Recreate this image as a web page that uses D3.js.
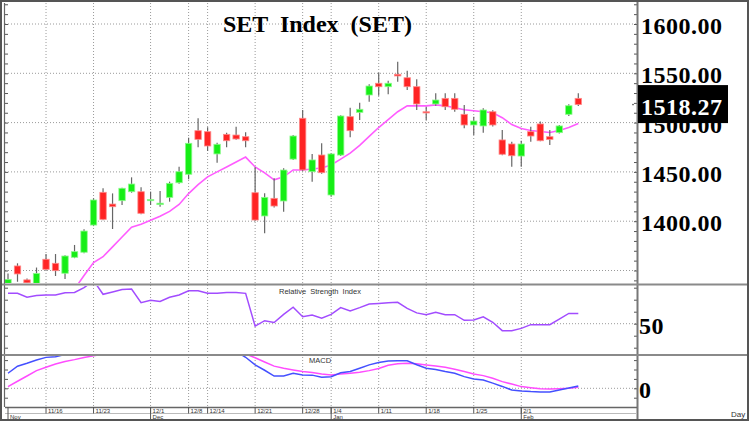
<!DOCTYPE html>
<html>
<head>
<meta charset="utf-8">
<script src="https://cdn.jsdelivr.net/npm/d3@7"></script>
<style>
  body { margin: 0; background: #fff; }
  svg { display: block; }
</style>
</head>
<body>
<script>

// ---- data ----
var openP  = [1337,1354.6,1340.5,1337,1361.4,1357.3,1347.2,1363.4,1368.5,1396.1,
              1429.3,1417.4,1420.8,1429.9,1429.9,1420.8,1416.8,1424.2,1439,1447.6,
              1491.8,1490.8,1468.2,1488.1,1487.4,1485.7,1428.9,1405.3,1423.2,1420.5,
              1463,1504.4,1450.2,1467.1,1426.6,1467.1,1506,1510.4,1528,1539.9,
              1536.4,1549,1545.5,1536.4,1511,1518.9,1524.6,1524.6,1508.4,1497.6,
              1496.6,1511,1482.4,1478.3,1466.1,1490.8,1498.6,1485.7,1489.8,1508.4,1524.6];
var highP  = [1347,1357.3,1342,1353,1366.7,1366.7,1365.5,1375.9,1391.8,1423.2,
              1433.4,1428.2,1434,1444.5,1434.4,1430,1430.6,1440.1,1455.3,1484.7,
              1504.4,1495.2,1479.5,1489.8,1495.8,1490.1,1454.7,1428.3,1443.5,1453.7,
              1487.5,1512.8,1468.2,1479,1469,1507.5,1515.1,1520.2,1538.8,1550.6,
              1542.5,1561.8,1552.6,1543.9,1516.1,1529.7,1529.7,1529.7,1517.8,1506,
              1514.5,1512.5,1492.5,1480.6,1481.6,1495.8,1501,1492.5,1497.5,1518.5,1529.7];
var lowP   = [1336,1338.6,1336.5,1336,1350,1344.4,1341.4,1362.5,1367.4,1395,
              1401,1392.1,1416.4,1428.9,1407,1416.4,1414.7,1419.8,1438,1442.5,
              1474.9,1471.2,1459.4,1474.9,1482.5,1474.9,1400,1387.7,1414,1409.6,
              1462,1451,1440.1,1448,1424.9,1466,1485.1,1502.6,1521.2,1527.3,
              1528.7,1541.5,1533.1,1512.8,1502.6,1517,1512.8,1511,1494.2,1487.4,
              1489.8,1496,1467,1455.3,1455.3,1480.6,1481,1477.3,1489,1506.7,1516.8];
var closeP = [1341,1346.5,1337.5,1347,1351.2,1349.8,1364.7,1369.1,1390,1421.5,
              1401.9,1414.7,1433.4,1437.7,1408,1422,1418.3,1438.4,1450.2,1479,
              1483,1476.3,1478,1481.6,1483.4,1481.6,1401.2,1424.2,1415.4,1451.9,
              1486.4,1452,1462.1,1449.2,1468.2,1506.7,1491.8,1513.5,1537.1,1536.4,
              1539.9,1547.3,1536.4,1518.9,1510,1522.9,1516.1,1513.5,1497.6,1501.6,
              1512.8,1497.6,1467.9,1466.4,1478.3,1486.4,1481.6,1483,1496.6,1517.1,1518.27];

// moving average of close
var maLine = [1290,1297,1303,1309,1315,1321,1327,1331,1345,1358,
              1364,1374,1384,1394,1397,1401,1405,1410,1417,1428,
              1437,1445,1450,1455,1460,1465,1455,1449,1442,1445,
              1452,1452,1453,1454,1457,1463,1469,1477,1486,1495,
              1503,1511,1517,1517,1517,1518,1517,1515,1513,1512,
              1511,1510,1505,1498,1494,1492,1491,1490,1492,1495,1499];

var rsiLine = [75.3,75.3,72,73.4,73.9,73.9,75.8,76,80,86,
               74.5,76.5,78.5,78.9,67.5,69.5,68.5,72,73.9,77.5,
               77.5,75.3,75.3,76,76,75.3,48,52.5,51,57.8,
               63.7,55.8,57.2,54.5,57.8,63.4,60.6,63.4,66.4,66.9,
               67.5,67.8,62.8,59,57.5,59.5,57.5,57.5,52.8,53.1,
               55.8,51.2,44.2,44.2,46.1,49.2,49.2,49.2,53.9,58.6,58.6];

var macdLine = [16,23.5,26.6,30.1,32.9,33.5,36,39,42,46,
                48,49,50,51,49,47,45,44,44,46,
                48,47,45,43,39,33,24.9,19.2,13,13.1,
                16,14.2,14,11.7,12.4,16.5,17.8,21.3,24.9,27.5,
                29,29.4,29.2,25,21.3,20,17.8,16,12.4,10,
                8.9,5.5,2,-1.8,-2.8,-3.5,-3.9,-3.9,-1.8,0.3,2.5];
var signalLine = [1.8,7.5,13.1,18.8,22.4,25.8,28.5,30.5,32.8,34.5,
                  36.5,38.5,40,41.5,42.5,43,43.5,43.5,43.5,44,
                  44.5,45,45,44,41,36.5,32.5,28,23.6,21.3,
                  19.5,17.8,16.7,15.3,14.2,15.3,16,17,18.8,21,
                  24.5,26,26.6,26.2,24.9,23.8,22.4,20.2,17.8,15.3,
                  13.5,10.6,7.1,4.5,1.8,0.7,-0.4,-0.7,-0.4,0,1.1];

// week gridlines (candle index) and labels
var weekIdx    = [4, 9, 15, 19, 21, 26, 31, 34, 39, 44, 49, 54];
var weekLabels = ["11/16","11/23","12/1","12/8","12/14","12/21","12/28","1/4","1/11","1/18","1/25","2/1"];
var monthIdx    = [0, 15, 34, 54];
var monthLabels = ["Nov","Dec","Jan","Feb"];

var priceLabels = [1400, 1450, 1500, 1550, 1600];
var priceGrid   = [1350, 1400, 1450, 1500, 1550, 1600];

// ---- layout ----
var W = 750, H = 422;
var plotL = 5, plotR = 637;
var mainTop = 3, mainBot = 283;
var rsiTop = 286, rsiBot = 354;
var macdTop = 356, macdBot = 407;

var svg = d3.select("body").append("svg")
    .attr("width", W)
    .attr("height", H);

var x  = d3.scaleLinear().domain([0, 60]).range([8, 578.3]);
var yP = d3.scaleLinear().domain([1350, 1600]).range([270.5, 24]);
var yR = d3.scaleLinear().domain([50, 80]).range([323.7, 287.7]);
var yM = d3.scaleLinear().domain([0, 30]).range([388.3, 360.1]);

// clip paths for the three panels
var defs = svg.append("defs");
[["clipMain", mainTop, mainBot], ["clipRsi", rsiTop, rsiBot], ["clipMacd", macdTop, macdBot]]
  .forEach(function(c) {
    defs.append("clipPath").attr("id", c[0])
      .append("rect")
        .attr("x", plotL).attr("y", c[1])
        .attr("width", plotR - plotL).attr("height", c[2] - c[1]);
  });

// ---- grid ----
var grid = svg.append("g").attr("stroke", "#9a9a9a").attr("stroke-dasharray", "1,2");

grid.selectAll("line.h").data(priceGrid).enter().append("line")
    .attr("x1", plotL).attr("x2", plotR)
    .attr("y1", function(d) { return yP(d); })
    .attr("y2", function(d) { return yP(d); });

grid.append("line").attr("x1", plotL).attr("x2", plotR)
    .attr("y1", yR(50)).attr("y2", yR(50));
grid.append("line").attr("x1", plotL).attr("x2", plotR)
    .attr("y1", yM(0)).attr("y2", yM(0));

grid.selectAll("line.v").data(weekIdx).enter().append("line")
    .attr("x1", function(d) { return x(d); })
    .attr("x2", function(d) { return x(d); })
    .attr("y1", mainTop).attr("y2", macdBot);

// ---- axis ticks on both sides ----
function ticks(scale, lo, hi, step, top, bot) {
  var vals = d3.range(lo, hi + 0.001, step).filter(function(v) {
    var p = scale(v); return p >= top && p <= bot;
  });
  svg.append("g").attr("transform", "translate(" + plotL + ",0)")
    .call(d3.axisRight(scale).tickValues(vals).tickSize(3).tickFormat(""))
    .call(function(g) { g.select(".domain").remove(); g.selectAll("line").attr("stroke", "#555"); });
  svg.append("g").attr("transform", "translate(" + plotR + ",0)")
    .call(d3.axisLeft(scale).tickValues(vals).tickSize(3).tickFormat(""))
    .call(function(g) { g.select(".domain").remove(); g.selectAll("line").attr("stroke", "#555"); });
}
ticks(yP, 1330, 1620, 10, mainTop, mainBot);
ticks(yR, 20, 90, 10, rsiTop + 1, rsiBot);
ticks(yM, -30, 40, 10, macdTop + 2, macdBot);

// ---- candles ----
var main = svg.append("g").attr("clip-path", "url(#clipMain)");

main.append("path")
    .datum(maLine)
    .attr("fill", "none")
    .attr("stroke", "#ff5cff")
    .attr("stroke-width", 1.6)
    .attr("d", d3.line().x(function(d, i) { return x(i); }).y(function(d) { return yP(d); }));

var candle = main.selectAll("g.candle").data(openP).enter().append("g");

candle.append("line")
    .attr("x1", function(d, i) { return x(i); })
    .attr("x2", function(d, i) { return x(i); })
    .attr("y1", function(d, i) { return yP(highP[i]); })
    .attr("y2", function(d, i) { return yP(lowP[i]); })
    .attr("stroke", "#666")
    .attr("stroke-width", 1.2);

candle.append("rect")
    .attr("x", function(d, i) { return x(i) - 3.2; })
    .attr("width", 6.4)
    .attr("y", function(d, i) { return yP(Math.max(d, closeP[i])); })
    .attr("height", function(d, i) { return Math.max(1.2, Math.abs(yP(d) - yP(closeP[i]))); })
    .attr("fill", function(d, i) { return closeP[i] >= d ? "#16ee16" : "#ff2424"; })
    .attr("stroke", function(d, i) { return closeP[i] >= d ? "#8cfa8c" : "#ff8a8a"; })
    .attr("stroke-width", 0.8);

// ---- RSI ----
svg.append("g").attr("clip-path", "url(#clipRsi)")
  .append("path")
    .datum(rsiLine)
    .attr("fill", "none")
    .attr("stroke", "#a24cff")
    .attr("stroke-width", 1.5)
    .attr("d", d3.line().x(function(d, i) { return x(i); }).y(function(d) { return yR(d); }));

// ---- MACD ----
var macdG = svg.append("g").attr("clip-path", "url(#clipMacd)");
macdG.append("path")
    .datum(signalLine)
    .attr("fill", "none")
    .attr("stroke", "#ff4cff")
    .attr("stroke-width", 1.5)
    .attr("d", d3.line().x(function(d, i) { return x(i); }).y(function(d) { return yM(d); }));
macdG.append("path")
    .datum(macdLine)
    .attr("fill", "none")
    .attr("stroke", "#4450ff")
    .attr("stroke-width", 1.5)
    .attr("d", d3.line().x(function(d, i) { return x(i); }).y(function(d) { return yM(d); }));

// panel captions
svg.append("text")
    .attr("x", 279).attr("y", 294)
    .attr("font-family", "Liberation Sans, Arial, sans-serif")
    .attr("font-size", 7.5).attr("word-spacing", 2).attr("fill", "#333")
    .text("Relative Strength Index");
svg.append("text")
    .attr("x", 309).attr("y", 363)
    .attr("font-family", "Liberation Sans, Arial, sans-serif")
    .attr("font-size", 7.5).attr("fill", "#333")
    .text("MACD");

// ---- frame, separators ----
svg.append("line").attr("x1", plotL - 0.5).attr("x2", plotL - 0.5)
    .attr("y1", mainTop).attr("y2", macdBot).attr("stroke", "#666").attr("stroke-width", 1.2);
svg.append("line").attr("x1", plotR + 0.5).attr("x2", plotR + 0.5)
    .attr("y1", 1).attr("y2", 420).attr("stroke", "#777").attr("stroke-width", 2);
[284.5, 355].forEach(function(yy) {
  svg.append("line").attr("x1", 1).attr("x2", 748).attr("y1", yy).attr("y2", yy)
      .attr("stroke", "#8a8a8a").attr("stroke-width", 2);
});
svg.append("rect").attr("x", 1).attr("y", 1).attr("width", 747).attr("height", 419)
    .attr("fill", "none").attr("stroke", "#555").attr("stroke-width", 2);

// ---- date axis ----
var dateAxis = svg.append("g")
    .attr("font-family", "Liberation Sans, Arial, sans-serif")
    .attr("font-size", 6).attr("fill", "#333");
dateAxis.append("line").attr("x1", plotL).attr("x2", plotR).attr("y1", 407.5).attr("y2", 407.5)
    .attr("stroke", "#666").attr("stroke-width", 1.5);
dateAxis.append("line").attr("x1", plotL).attr("x2", plotR).attr("y1", 413.5).attr("y2", 413.5)
    .attr("stroke", "#bbb").attr("stroke-width", 1);
weekIdx.forEach(function(d, k) {
  dateAxis.append("line").attr("x1", x(d)).attr("x2", x(d)).attr("y1", 407).attr("y2", 413.5)
      .attr("stroke", "#555");
  dateAxis.append("text").attr("x", x(d) + 2).attr("y", 412.5).text(weekLabels[k]);
});
monthIdx.forEach(function(d, k) {
  dateAxis.append("line").attr("x1", x(d)).attr("x2", x(d)).attr("y1", 407).attr("y2", 420)
      .attr("stroke", "#555");
  dateAxis.append("text").attr("x", x(d) + 2).attr("y", 418.5).text(monthLabels[k]);
});
svg.append("text").attr("x", 731).attr("y", 417)
    .attr("font-family", "Liberation Sans, Arial, sans-serif")
    .attr("font-size", 8).attr("fill", "#333").text("Day");

// ---- title ----
svg.append("text")
    .attr("x", 223).attr("y", 31.5)
    .attr("font-family", "Liberation Serif, Times New Roman, serif")
    .attr("font-weight", "bold").attr("font-size", 24).attr("word-spacing", 6)
    .text("SET Index (SET)");

// ---- right side labels ----
var lab = svg.append("g")
    .attr("font-family", "Liberation Serif, Times New Roman, serif")
    .attr("font-weight", "bold").attr("font-size", 24).attr("letter-spacing", 0.5);
lab.selectAll("text").data(priceLabels).enter().append("text")
    .attr("x", 641)
    .attr("y", function(d) { return yP(d) + 10; })
    .text(function(d) { return d.toFixed(2); });
lab.append("text").attr("x", 639).attr("y", yR(50) + 10.3).text("50");
lab.append("text").attr("x", 639).attr("y", yM(0) + 10).text("0");

// last price box
var last = closeP[closeP.length - 1];
svg.append("circle").attr("cx", 633).attr("cy", yP(last)).attr("r", 0.8).attr("fill", "#444");
svg.append("rect")
    .attr("x", 638).attr("y", yP(last) - 19.5)
    .attr("width", 90).attr("height", 38)
    .attr("fill", "#000");
svg.append("text")
    .attr("x", 641).attr("y", yP(last) + 10.5)
    .attr("font-family", "Liberation Serif, Times New Roman, serif")
    .attr("font-weight", "bold").attr("font-size", 24).attr("letter-spacing", 0.5)
    .attr("fill", "#fff")
    .text(last.toFixed(2));

</script>
</body>
</html>
